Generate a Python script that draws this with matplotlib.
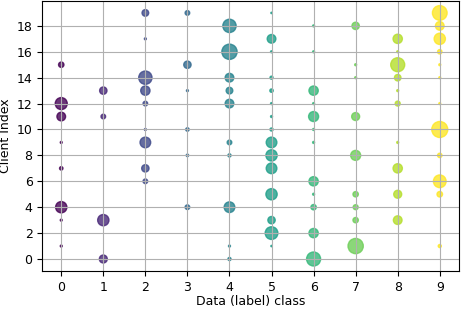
import numpy as np
import matplotlib
matplotlib.use('Agg')
import matplotlib.pyplot as plt

plt.rcParams['font.size'] = 9

# client index per class, and the (approximate) number of samples of that class
# held by each client
clients_0 = [15, 12, 11, 9, 7, 4, 3, 1]
samples_0 = [15, 75, 39, 2, 6, 66, 2, 2]
clients_1 = [13, 11, 3, 0]
samples_1 = [28, 11, 66, 33]
clients_2 = [19, 17, 14, 13, 12, 10, 9, 7, 6]
samples_2 = [23, 2, 92, 45, 11, 2, 59, 28, 11]
clients_3 = [19, 15, 13, 10, 8, 4]
samples_3 = [11, 28, 2, 6, 3, 11]
clients_4 = [18, 16, 14, 13, 12, 9, 8, 4, 1, 0]
samples_4 = [92, 121, 39, 23, 39, 11, 5, 59, 2, 5]
clients_5 = [19, 17, 16, 14, 13, 12, 11, 10, 9, 8, 7, 5, 3, 2, 1]
samples_5 = [1, 39, 2, 5, 6, 2, 2, 5, 59, 66, 59, 66, 28, 84, 1]
clients_6 = [18, 16, 13, 12, 11, 10, 9, 6, 5, 4, 2, 0]
samples_6 = [2, 2, 45, 2, 52, 2, 2, 45, 2, 15, 45, 102]
clients_7 = [18, 15, 14, 11, 8, 5, 4, 3, 1]
samples_7 = [28, 2, 2, 33, 52, 15, 13, 15, 121]
clients_8 = [17, 16, 15, 14, 13, 12, 9, 7, 5, 3]
samples_8 = [45, 2, 102, 22, 2, 13, 2, 45, 33, 39]
clients_9 = [19, 18, 17, 16, 15, 14, 12, 10, 8, 6, 5, 1]
samples_9 = [112, 39, 66, 10, 2, 2, 2, 133, 10, 84, 16, 5]

clients = [clients_0, clients_1, clients_2, clients_3, clients_4,
           clients_5, clients_6, clients_7, clients_8, clients_9]
samples = [samples_0, samples_1, samples_2, samples_3, samples_4,
           samples_5, samples_6, samples_7, samples_8, samples_9]
classes = np.arange(10)

xs, ys, ss = [], [], []
for c in classes:
    xs += [c] * len(clients[c])
    ys += clients[c]
    ss += samples[c]

fig = plt.figure(figsize=(4.63, 3.09), dpi=100)
ax = fig.add_axes([0.0914, 0.122, 0.8993, 0.876])
ax.scatter(xs, ys, s=ss, c=xs, cmap='viridis', vmin=0, vmax=9, alpha=0.8)
ax.grid(True)
ax.set_xticks(classes)
ax.set_yticks(np.arange(0, 19, 2))
ax.set_xlabel('Data (label) class')
ax.set_ylabel('Client Index')
ax.xaxis.set_label_coords(0.5, -0.088)
ax.yaxis.set_label_coords(-0.073, 0.5)
ax.set_xlim(-0.45, 9.45)
ax.set_ylim(-0.95, 19.95)

plt.savefig('out.png')
